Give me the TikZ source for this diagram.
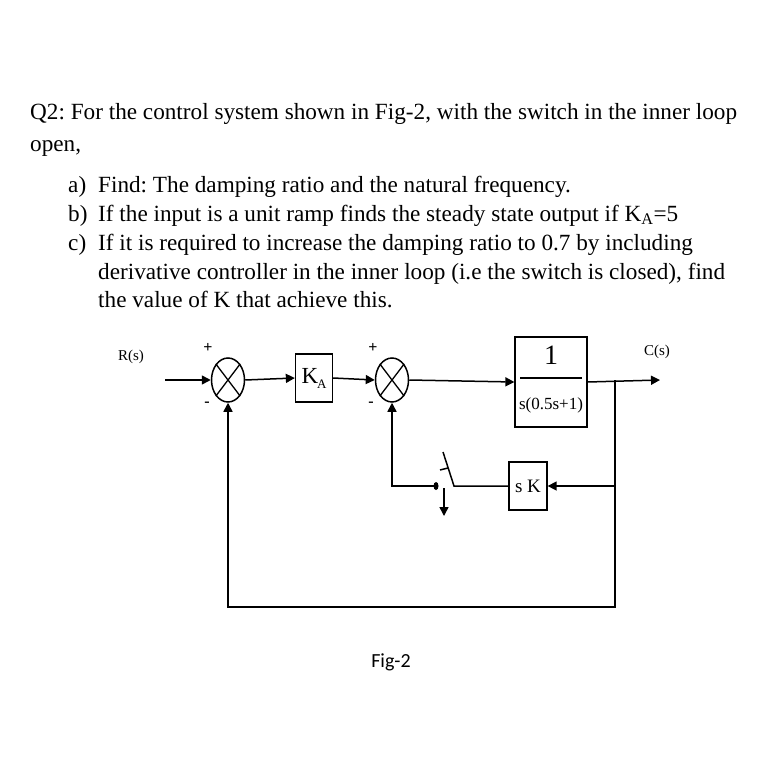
\documentclass[tikz,border=0pt]{standalone}
\usepackage{fontspec}
\setmainfont{Liberation Serif}
\newfontfamily\figfont{Carlito}
\usetikzlibrary{arrows.meta,shapes.geometric}
\frenchspacing
\begin{document}
\frenchspacing
\begin{tikzpicture}[x=1pt,y=-1pt,
  txt/.style={anchor=base west,inner sep=0pt,font=\fontsize{23.2}{26}\selectfont},
  blk/.style={draw,line width=1.3pt,inner sep=0pt},
  sm/.style={font=\fontsize{15}{17}\selectfont,inner sep=0pt},
  pm/.style={font=\bfseries\fontsize{16}{17}\selectfont,inner sep=0pt},
  ln/.style={line width=1.5pt},
  ar/.style={ln,-{Triangle[length=9pt,width=9pt]}}]
\useasboundingbox (0,0) rectangle (768,768);
\node[txt] (q1) at (30,119) {Q2: For the control system shown in Fig-2, with the switch in the inner loop};
\node[txt] (q2) at (30,151) {open,};
\node[txt] (la) at (68,192) {a)}; \node[txt] (ta) at (98,192) {Find: The damping ratio and the natural frequency.};
\node[txt] (lb) at (68,221) {b)}; \node[txt] (tb) at (98,221) {If the input is a unit ramp finds the steady state output if K\textsubscript{A}=5};
\node[txt] (lc) at (68,250) {c)}; \node[txt] (tc) at (98,250) {If it is required to increase the damping ratio to 0.7 by including};
\node[txt] (tc2) at (98,279) {derivative controller in the inner loop (i.e the switch is closed), find};
\node[txt] (tc3) at (98,307) {the value of K that achieve this.};

\coordinate (in) at (165,380);
\node[draw,ln,ellipse,minimum width=33pt,minimum height=44pt,inner sep=0pt] (s1) at (228,380) {};
\draw[line width=1.3pt] (s1.north west)--(s1.south east) (s1.north east)--(s1.south west);
\node[blk,minimum width=37pt,minimum height=48pt] (ka) at (314,378) {\fontsize{23}{24}\selectfont K\kern-1pt\raisebox{-5pt}{\fontsize{13}{14}\selectfont A}};
\node[draw,ln,ellipse,minimum width=33pt,minimum height=44pt,inner sep=0pt] (s2) at (392,380) {};
\draw[line width=1.3pt] (s2.north west)--(s2.south east) (s2.north east)--(s2.south west);
\node[blk,minimum width=72pt,minimum height=90pt] (g) at (551,382) {};
\node[font=\fontsize{28}{30}\selectfont] (g1) at (551,355) {1};
\draw[line width=1.3pt] (520,378)--(582,378);
\node[font=\fontsize{17}{19}\selectfont,inner sep=0pt] (g2) at (551,405) {s(0.5s+1)};
\coordinate (br) at (615,380);
\coordinate (out) at (660,380);
\node[sm] (cs) at (657,352) {C(s)};
\node[sm] (rs) at (131,357) {R(s)};
\node[pm] (p1) at (208,348) {+};
\node[pm] (m1) at (207,404) {-};
\node[pm] (p2) at (373,348) {+};
\node[pm] (m2) at (371,404) {-};
\draw[ar] (in)--(s1.west);
\draw[ar] (s1.east)--(ka.west);
\draw[ar] (ka.east)--(s2.west);
\draw[ar] (s2.east)--(g.west);
\draw[ar] (g.east)--(out);
\node[blk,minimum width=38pt,minimum height=48pt] (sk) at (528,486) {\fontsize{19}{21}\selectfont s K};
\coordinate (br2) at (615,486);
\draw[ar] (br)--(br2)--(sk.east);
\coordinate (sw1) at (454,486);
\coordinate (sw2) at (436,486);
\coordinate (swt) at (443,452);
\coordinate (swd) at (444,516);
\coordinate (ib) at (392,486);
\draw[ln] (sk.west)--(sw1)--(swt);
\draw[ln] (440,470)--(448,468);
\fill (sw2) ellipse (2.5pt and 4pt);
\draw[ar] (444,488)--(swd);
\draw[ar] (sw2)--(ib)--(s2.south);
\coordinate (fb1) at (615,607);
\coordinate (fb2) at (228,607);
\draw[ar] (br2)--(fb1)--(fb2)--(s1.south);
\node[font=\figfont\fontsize{20}{22}\selectfont] (fig) at (391,662) {Fig-2};
\end{tikzpicture}
\end{document}
